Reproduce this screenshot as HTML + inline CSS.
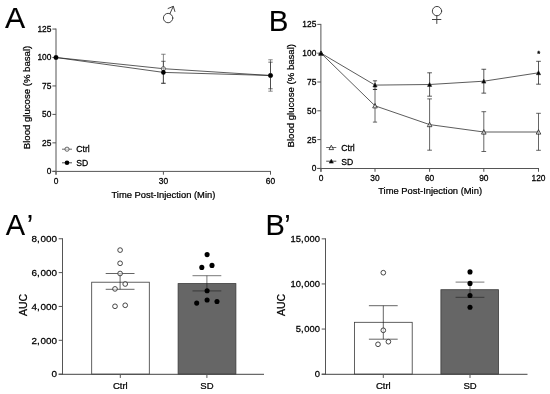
<!DOCTYPE html>
<html><head><meta charset="utf-8"><title>Figure</title>
<style>
html,body{margin:0;padding:0;background:#fff;}
svg{display:block;font-family:"Liberation Sans",sans-serif;fill:#000;}
text{stroke:#000;stroke-width:0.26px;}
text.big{stroke-width:0.1px;}
text.ttl{stroke-width:0.24px;}
text.bt{stroke-width:0.26px;}
</style></head><body>
<svg width="550" height="394" viewBox="0 0 550 394">
<rect x="0" y="0" width="550" height="394" fill="#fff"/>
<line x1="56.00" y1="28.55" x2="56.00" y2="174.70" stroke="#555" stroke-width="1"/>
<line x1="52.40" y1="171.40" x2="271.00" y2="171.40" stroke="#555" stroke-width="1"/>
<line x1="52.40" y1="171.30" x2="56.00" y2="171.30" stroke="#555" stroke-width="1"/>
<text x="51.40" y="174.20" font-size="8.4" text-anchor="end" >0</text>
<line x1="52.40" y1="142.85" x2="56.00" y2="142.85" stroke="#555" stroke-width="1"/>
<text x="51.40" y="145.75" font-size="8.4" text-anchor="end" >25</text>
<line x1="52.40" y1="114.40" x2="56.00" y2="114.40" stroke="#555" stroke-width="1"/>
<text x="51.40" y="117.30" font-size="8.4" text-anchor="end" >50</text>
<line x1="52.40" y1="85.95" x2="56.00" y2="85.95" stroke="#555" stroke-width="1"/>
<text x="51.40" y="88.85" font-size="8.4" text-anchor="end" >75</text>
<line x1="52.40" y1="57.50" x2="56.00" y2="57.50" stroke="#555" stroke-width="1"/>
<text x="51.40" y="60.40" font-size="8.4" text-anchor="end" >100</text>
<line x1="52.40" y1="29.05" x2="56.00" y2="29.05" stroke="#555" stroke-width="1"/>
<text x="51.40" y="31.95" font-size="8.4" text-anchor="end" >125</text>
<line x1="56.00" y1="171.30" x2="56.00" y2="174.70" stroke="#555" stroke-width="1"/>
<text x="56.00" y="183.60" font-size="8.4" text-anchor="middle" >0</text>
<line x1="163.40" y1="171.30" x2="163.40" y2="174.70" stroke="#555" stroke-width="1"/>
<text x="163.40" y="183.60" font-size="8.4" text-anchor="middle" >30</text>
<line x1="270.50" y1="171.30" x2="270.50" y2="174.70" stroke="#555" stroke-width="1"/>
<text x="270.50" y="183.60" font-size="8.4" text-anchor="middle" >60</text>
<text x="163.40" y="197.60" font-size="9.4" text-anchor="middle" class="ttl">Time Post-Injection (Min)</text>
<text transform="translate(29.7,97.5) rotate(-90)" font-size="9.6" text-anchor="middle" class="ttl">Blood glucose (% basal)</text>
<line x1="163.40" y1="54.25" x2="163.40" y2="83.05" stroke="#555" stroke-width="0.7"/>
<line x1="161.20" y1="54.25" x2="165.60" y2="54.25" stroke="#555" stroke-width="0.7"/>
<line x1="161.20" y1="83.05" x2="165.60" y2="83.05" stroke="#555" stroke-width="0.7"/>
<line x1="163.40" y1="61.31" x2="163.40" y2="83.51" stroke="#333" stroke-width="0.7"/>
<line x1="161.20" y1="61.31" x2="165.60" y2="61.31" stroke="#333" stroke-width="0.7"/>
<line x1="161.20" y1="83.51" x2="165.60" y2="83.51" stroke="#333" stroke-width="0.7"/>
<line x1="270.50" y1="59.78" x2="270.50" y2="91.18" stroke="#555" stroke-width="0.7"/>
<line x1="268.30" y1="59.78" x2="272.70" y2="59.78" stroke="#555" stroke-width="0.7"/>
<line x1="268.30" y1="91.18" x2="272.70" y2="91.18" stroke="#555" stroke-width="0.7"/>
<line x1="270.50" y1="62.18" x2="270.50" y2="88.78" stroke="#333" stroke-width="0.7"/>
<line x1="268.30" y1="62.18" x2="272.70" y2="62.18" stroke="#333" stroke-width="0.7"/>
<line x1="268.30" y1="88.78" x2="272.70" y2="88.78" stroke="#333" stroke-width="0.7"/>
<polyline fill="none" stroke="#262626" stroke-width="0.75" points="56.0,57.5 163.4,68.7 270.5,75.5"/>
<polyline fill="none" stroke="#262626" stroke-width="0.75" points="56.0,57.5 163.4,72.4 270.5,75.5"/>
<circle cx="56" cy="57.5" r="2.1" fill="#fff" fill-opacity="0.55" stroke="#444" stroke-width="0.8"/>
<circle cx="163.4" cy="68.7" r="2.1" fill="#fff" fill-opacity="0.55" stroke="#444" stroke-width="0.8"/>
<circle cx="270.5" cy="75.5" r="2.1" fill="#fff" fill-opacity="0.55" stroke="#444" stroke-width="0.8"/>
<circle cx="56" cy="57.5" r="2.3" fill="#000"/>
<circle cx="163.4" cy="72.4" r="2.3" fill="#000"/>
<circle cx="270.5" cy="75.5" r="2.3" fill="#000"/>
<line x1="62.00" y1="149.20" x2="72.00" y2="149.20" stroke="#444" stroke-width="0.8"/>
<circle cx="67" cy="149.2" r="2.1" fill="#fff" fill-opacity="0.55" stroke="#444" stroke-width="0.8"/>
<text x="76.30" y="152.40" font-size="8.6" text-anchor="start" >Ctrl</text>
<line x1="62.00" y1="162.80" x2="72.00" y2="162.80" stroke="#222" stroke-width="0.8"/>
<circle cx="67" cy="162.8" r="2.3" fill="#000"/>
<text x="76.30" y="165.50" font-size="8.6" text-anchor="start" >SD</text>
<text x="5.00" y="28.00" font-size="29.3" text-anchor="start" class="big" textLength="20.2" lengthAdjust="spacingAndGlyphs">A</text>
<g fill="none" stroke="#3a3a3a" stroke-width="0.95" stroke-linecap="round"><circle cx="168.1" cy="18.05" r="4.7"/><path d="M169.9 13.7 L173.3 6.4 M168.1 8.5 L173.3 6.3 L174.9 11.5"/></g>
<line x1="320.90" y1="23.90" x2="320.90" y2="171.80" stroke="#555" stroke-width="1"/>
<line x1="317.30" y1="168.50" x2="539.00" y2="168.50" stroke="#555" stroke-width="1"/>
<line x1="317.30" y1="168.40" x2="320.90" y2="168.40" stroke="#555" stroke-width="1"/>
<text x="316.30" y="171.30" font-size="8.4" text-anchor="end" >0</text>
<line x1="317.30" y1="139.60" x2="320.90" y2="139.60" stroke="#555" stroke-width="1"/>
<text x="316.30" y="142.50" font-size="8.4" text-anchor="end" >25</text>
<line x1="317.30" y1="110.80" x2="320.90" y2="110.80" stroke="#555" stroke-width="1"/>
<text x="316.30" y="113.70" font-size="8.4" text-anchor="end" >50</text>
<line x1="317.30" y1="82.00" x2="320.90" y2="82.00" stroke="#555" stroke-width="1"/>
<text x="316.30" y="84.90" font-size="8.4" text-anchor="end" >75</text>
<line x1="317.30" y1="53.20" x2="320.90" y2="53.20" stroke="#555" stroke-width="1"/>
<text x="316.30" y="56.10" font-size="8.4" text-anchor="end" >100</text>
<line x1="317.30" y1="24.40" x2="320.90" y2="24.40" stroke="#555" stroke-width="1"/>
<text x="316.30" y="27.30" font-size="8.4" text-anchor="end" >125</text>
<line x1="321.00" y1="168.40" x2="321.00" y2="171.80" stroke="#555" stroke-width="1"/>
<text x="321.00" y="180.70" font-size="8.4" text-anchor="middle" >0</text>
<line x1="375.00" y1="168.40" x2="375.00" y2="171.80" stroke="#555" stroke-width="1"/>
<text x="375.00" y="180.70" font-size="8.4" text-anchor="middle" >30</text>
<line x1="429.60" y1="168.40" x2="429.60" y2="171.80" stroke="#555" stroke-width="1"/>
<text x="429.60" y="180.70" font-size="8.4" text-anchor="middle" >60</text>
<line x1="483.80" y1="168.40" x2="483.80" y2="171.80" stroke="#555" stroke-width="1"/>
<text x="483.80" y="180.70" font-size="8.4" text-anchor="middle" >90</text>
<line x1="538.50" y1="168.40" x2="538.50" y2="171.80" stroke="#555" stroke-width="1"/>
<text x="538.50" y="180.70" font-size="8.4" text-anchor="middle" >120</text>
<text x="430.10" y="194.30" font-size="9.4" text-anchor="middle" class="ttl">Time Post-Injection (Min)</text>
<text transform="translate(293.8,95.7) rotate(-90)" font-size="9.6" text-anchor="middle" class="ttl">Blood glucose (% basal)</text>
<line x1="375.00" y1="89.50" x2="375.00" y2="122.10" stroke="#333" stroke-width="0.75"/>
<line x1="372.90" y1="89.50" x2="377.10" y2="89.50" stroke="#333" stroke-width="0.75"/>
<line x1="372.90" y1="122.10" x2="377.10" y2="122.10" stroke="#333" stroke-width="0.75"/>
<line x1="375.00" y1="80.80" x2="375.00" y2="89.40" stroke="#222" stroke-width="0.75"/>
<line x1="372.90" y1="80.80" x2="377.10" y2="80.80" stroke="#222" stroke-width="0.75"/>
<line x1="372.90" y1="89.40" x2="377.10" y2="89.40" stroke="#222" stroke-width="0.75"/>
<line x1="429.60" y1="98.90" x2="429.60" y2="150.20" stroke="#333" stroke-width="0.75"/>
<line x1="427.25" y1="98.90" x2="431.95" y2="98.90" stroke="#333" stroke-width="0.75"/>
<line x1="427.25" y1="150.20" x2="431.95" y2="150.20" stroke="#333" stroke-width="0.75"/>
<line x1="429.60" y1="72.80" x2="429.60" y2="96.20" stroke="#222" stroke-width="0.75"/>
<line x1="427.25" y1="72.80" x2="431.95" y2="72.80" stroke="#222" stroke-width="0.75"/>
<line x1="427.25" y1="96.20" x2="431.95" y2="96.20" stroke="#222" stroke-width="0.75"/>
<line x1="483.80" y1="111.70" x2="483.80" y2="151.50" stroke="#333" stroke-width="0.75"/>
<line x1="481.45" y1="111.70" x2="486.15" y2="111.70" stroke="#333" stroke-width="0.75"/>
<line x1="481.45" y1="151.50" x2="486.15" y2="151.50" stroke="#333" stroke-width="0.75"/>
<line x1="483.80" y1="69.25" x2="483.80" y2="93.15" stroke="#222" stroke-width="0.75"/>
<line x1="481.45" y1="69.25" x2="486.15" y2="69.25" stroke="#222" stroke-width="0.75"/>
<line x1="481.45" y1="93.15" x2="486.15" y2="93.15" stroke="#222" stroke-width="0.75"/>
<line x1="538.50" y1="113.30" x2="538.50" y2="150.30" stroke="#333" stroke-width="0.75"/>
<line x1="536.15" y1="113.30" x2="540.85" y2="113.30" stroke="#333" stroke-width="0.75"/>
<line x1="536.15" y1="150.30" x2="540.85" y2="150.30" stroke="#333" stroke-width="0.75"/>
<line x1="538.50" y1="61.30" x2="538.50" y2="84.20" stroke="#222" stroke-width="0.75"/>
<line x1="536.15" y1="61.30" x2="540.85" y2="61.30" stroke="#222" stroke-width="0.75"/>
<line x1="536.15" y1="84.20" x2="540.85" y2="84.20" stroke="#222" stroke-width="0.75"/>
<polyline fill="none" stroke="#262626" stroke-width="0.75" points="321.0,53.2 375.0,105.8 429.6,124.6 483.8,132.0 538.5,132.0"/>
<polyline fill="none" stroke="#262626" stroke-width="0.75" points="321.0,53.2 375.0,85.1 429.6,84.5 483.8,81.2 538.5,72.8"/>
<polygon points="321.0,50.9 318.7,55.3 323.3,55.3" fill="#fff" fill-opacity="0.6" stroke="#222" stroke-width="0.8"/>
<polygon points="375.0,103.5 372.7,107.9 377.3,107.9" fill="#fff" fill-opacity="0.6" stroke="#222" stroke-width="0.8"/>
<polygon points="429.6,122.3 427.3,126.7 431.9,126.7" fill="#fff" fill-opacity="0.6" stroke="#222" stroke-width="0.8"/>
<polygon points="483.8,129.7 481.5,134.1 486.1,134.1" fill="#fff" fill-opacity="0.6" stroke="#222" stroke-width="0.8"/>
<polygon points="538.5,129.7 536.2,134.1 540.8,134.1" fill="#fff" fill-opacity="0.6" stroke="#222" stroke-width="0.8"/>
<polygon points="321.0,51.1 318.9,55.1 323.1,55.1" fill="#000" fill-opacity="1" stroke="#222" stroke-width="0.6"/>
<polygon points="375.0,83.0 372.9,87.0 377.1,87.0" fill="#000" fill-opacity="1" stroke="#222" stroke-width="0.6"/>
<polygon points="429.6,82.5 427.5,86.4 431.7,86.4" fill="#000" fill-opacity="1" stroke="#222" stroke-width="0.6"/>
<polygon points="483.8,79.2 481.7,83.1 485.9,83.1" fill="#000" fill-opacity="1" stroke="#222" stroke-width="0.6"/>
<polygon points="538.5,70.7 536.4,74.7 540.6,74.7" fill="#000" fill-opacity="1" stroke="#222" stroke-width="0.6"/>
<line x1="326.20" y1="147.50" x2="336.30" y2="147.50" stroke="#444" stroke-width="0.8"/>
<polygon points="331.3,145.2 329.0,149.6 333.6,149.6" fill="#fff" fill-opacity="0.6" stroke="#222" stroke-width="0.8"/>
<text x="341.30" y="150.50" font-size="8.6" text-anchor="start" >Ctrl</text>
<line x1="326.20" y1="161.20" x2="336.30" y2="161.20" stroke="#222" stroke-width="0.8"/>
<polygon points="331.3,159.2 329.2,163.1 333.4,163.1" fill="#000" fill-opacity="1" stroke="#222" stroke-width="0.6"/>
<text x="341.30" y="164.50" font-size="8.6" text-anchor="start" >SD</text>
<text x="268.70" y="31.00" font-size="29.5" text-anchor="start" class="big">B</text>
<g fill="none" stroke="#3a3a3a" stroke-width="0.95" stroke-linecap="round"><circle cx="437" cy="11.1" r="4.65"/><path d="M436.8 15.7 L436.8 23.5 M432.4 19.5 L440.9 19.5"/></g>
<text x="538.60" y="56.20" font-size="7.5" text-anchor="middle" font-weight="bold">*</text>
<rect x="91.7" y="282.2" width="57.60000000000001" height="91.94999999999999" fill="#fff" stroke="#3a3a3a" stroke-width="0.8"/>
<rect x="178.1" y="283.6" width="57.80000000000001" height="90.54999999999995" fill="#666" stroke="#3a3a3a" stroke-width="0.8"/>
<line x1="62.50" y1="238.25" x2="62.50" y2="374.65" stroke="#555" stroke-width="1"/>
<line x1="58.70" y1="374.30" x2="264.00" y2="374.30" stroke="#444" stroke-width="1"/>
<line x1="58.70" y1="374.15" x2="62.50" y2="374.15" stroke="#555" stroke-width="1"/>
<text x="56.90" y="377.45" font-size="9.9" text-anchor="end" class="bt">0</text>
<line x1="58.70" y1="340.30" x2="62.50" y2="340.30" stroke="#555" stroke-width="1"/>
<text x="56.90" y="343.60" font-size="9.9" text-anchor="end" class="bt">2,<tspan dx="0.6">000</tspan></text>
<line x1="58.70" y1="306.45" x2="62.50" y2="306.45" stroke="#555" stroke-width="1"/>
<text x="56.90" y="309.75" font-size="9.9" text-anchor="end" class="bt">4,<tspan dx="0.6">000</tspan></text>
<line x1="58.70" y1="272.60" x2="62.50" y2="272.60" stroke="#555" stroke-width="1"/>
<text x="56.90" y="275.90" font-size="9.9" text-anchor="end" class="bt">6,<tspan dx="0.6">000</tspan></text>
<line x1="58.70" y1="238.75" x2="62.50" y2="238.75" stroke="#555" stroke-width="1"/>
<text x="56.90" y="242.05" font-size="9.9" text-anchor="end" class="bt">8,<tspan dx="0.6">000</tspan></text>
<text transform="translate(26.7,305) rotate(-90)" font-size="10.5" text-anchor="middle" class="ttl">AUC</text>
<line x1="120.30" y1="374.15" x2="120.30" y2="377.95" stroke="#555" stroke-width="1"/>
<text x="120.30" y="388.65" font-size="9.5" text-anchor="middle" class="ttl">Ctrl</text>
<line x1="206.90" y1="374.15" x2="206.90" y2="377.95" stroke="#555" stroke-width="1"/>
<text x="206.90" y="388.65" font-size="9.5" text-anchor="middle" class="ttl">SD</text>
<g stroke="#1a1a1a" stroke-opacity="0.75" stroke-width="0.9" fill="none"><path d="M120.1 273.5V289.3M105.7 273.5H134.5M105.7 289.3H134.5"/></g>
<circle cx="120.1" cy="250.1" r="2.35" fill="#fff" fill-opacity="0.6" stroke="#333" stroke-width="0.9"/>
<circle cx="120.1" cy="263.3" r="2.35" fill="#fff" fill-opacity="0.6" stroke="#333" stroke-width="0.9"/>
<circle cx="120.1" cy="273.5" r="2.35" fill="#fff" fill-opacity="0.6" stroke="#333" stroke-width="0.9"/>
<circle cx="125.2" cy="284" r="2.35" fill="#fff" fill-opacity="0.6" stroke="#333" stroke-width="0.9"/>
<circle cx="115" cy="288.9" r="2.35" fill="#fff" fill-opacity="0.6" stroke="#333" stroke-width="0.9"/>
<circle cx="115" cy="306.3" r="2.35" fill="#fff" fill-opacity="0.6" stroke="#333" stroke-width="0.9"/>
<circle cx="125.2" cy="305.3" r="2.35" fill="#fff" fill-opacity="0.6" stroke="#333" stroke-width="0.9"/>
<g stroke="#1a1a1a" stroke-opacity="0.65" stroke-width="0.9" fill="none"><path d="M206.9 275.7V290.9M192.5 275.7H221.3M192.5 290.9H221.3"/></g>
<circle cx="207.1" cy="254.6" r="2.55" fill="#000"/>
<circle cx="212" cy="265.4" r="2.55" fill="#000"/>
<circle cx="201.8" cy="267.4" r="2.55" fill="#000"/>
<circle cx="207.1" cy="290.7" r="2.55" fill="#000"/>
<circle cx="207.1" cy="300" r="2.55" fill="#000"/>
<circle cx="196.7" cy="303.1" r="2.55" fill="#000"/>
<circle cx="217" cy="301.5" r="2.55" fill="#000"/>
<text x="5.8" y="234.7" font-size="29" class="big">A<tspan x="26.7">’</tspan></text>
<rect x="354.4" y="322.3" width="57.80000000000001" height="51.849999999999966" fill="#fff" stroke="#3a3a3a" stroke-width="0.8"/>
<rect x="440.9" y="289.7" width="57.60000000000002" height="84.44999999999999" fill="#666" stroke="#3a3a3a" stroke-width="0.8"/>
<line x1="325.50" y1="238.35" x2="325.50" y2="374.65" stroke="#555" stroke-width="1"/>
<line x1="321.70" y1="374.30" x2="527.50" y2="374.30" stroke="#444" stroke-width="1"/>
<line x1="321.70" y1="374.15" x2="325.50" y2="374.15" stroke="#555" stroke-width="1"/>
<text x="319.90" y="377.45" font-size="9.4" text-anchor="end" class="bt">0</text>
<line x1="321.70" y1="329.05" x2="325.50" y2="329.05" stroke="#555" stroke-width="1"/>
<text x="319.90" y="332.35" font-size="9.4" text-anchor="end" class="bt">5,<tspan dx="0.6">000</tspan></text>
<line x1="321.70" y1="283.95" x2="325.50" y2="283.95" stroke="#555" stroke-width="1"/>
<text x="319.90" y="287.25" font-size="9.4" text-anchor="end" class="bt">10,<tspan dx="0.6">000</tspan></text>
<line x1="321.70" y1="238.85" x2="325.50" y2="238.85" stroke="#555" stroke-width="1"/>
<text x="319.90" y="242.15" font-size="9.4" text-anchor="end" class="bt">15,<tspan dx="0.6">000</tspan></text>
<text transform="translate(284.6,305) rotate(-90)" font-size="10.5" text-anchor="middle" class="ttl">AUC</text>
<line x1="383.30" y1="374.15" x2="383.30" y2="377.95" stroke="#555" stroke-width="1"/>
<text x="383.30" y="388.65" font-size="9.5" text-anchor="middle" class="ttl">Ctrl</text>
<line x1="470.00" y1="374.15" x2="470.00" y2="377.95" stroke="#555" stroke-width="1"/>
<text x="470.00" y="388.65" font-size="9.5" text-anchor="middle" class="ttl">SD</text>
<g stroke="#1a1a1a" stroke-opacity="0.75" stroke-width="0.9" fill="none"><path d="M383.3 305.7V339.2M368.9 305.7H397.7M368.9 339.2H397.7"/></g>
<circle cx="383.3" cy="272.7" r="2.35" fill="#fff" fill-opacity="0.6" stroke="#333" stroke-width="0.9"/>
<circle cx="383.3" cy="330.3" r="2.35" fill="#fff" fill-opacity="0.6" stroke="#333" stroke-width="0.9"/>
<circle cx="388.4" cy="341.7" r="2.35" fill="#fff" fill-opacity="0.6" stroke="#333" stroke-width="0.9"/>
<circle cx="378" cy="344.3" r="2.35" fill="#fff" fill-opacity="0.6" stroke="#333" stroke-width="0.9"/>
<g stroke="#1a1a1a" stroke-opacity="0.65" stroke-width="0.9" fill="none"><path d="M470 282.1V297.3M455.6 282.1H484.4M455.6 297.3H484.4"/></g>
<circle cx="470" cy="271.9" r="2.55" fill="#000"/>
<circle cx="470" cy="283.4" r="2.55" fill="#000"/>
<circle cx="470" cy="295.5" r="2.55" fill="#000"/>
<circle cx="470" cy="307.2" r="2.55" fill="#000"/>
<text x="265.40" y="234.80" font-size="29" text-anchor="start" class="big">B<tspan dx="-0.6">’</tspan></text>
</svg>
</body></html>
